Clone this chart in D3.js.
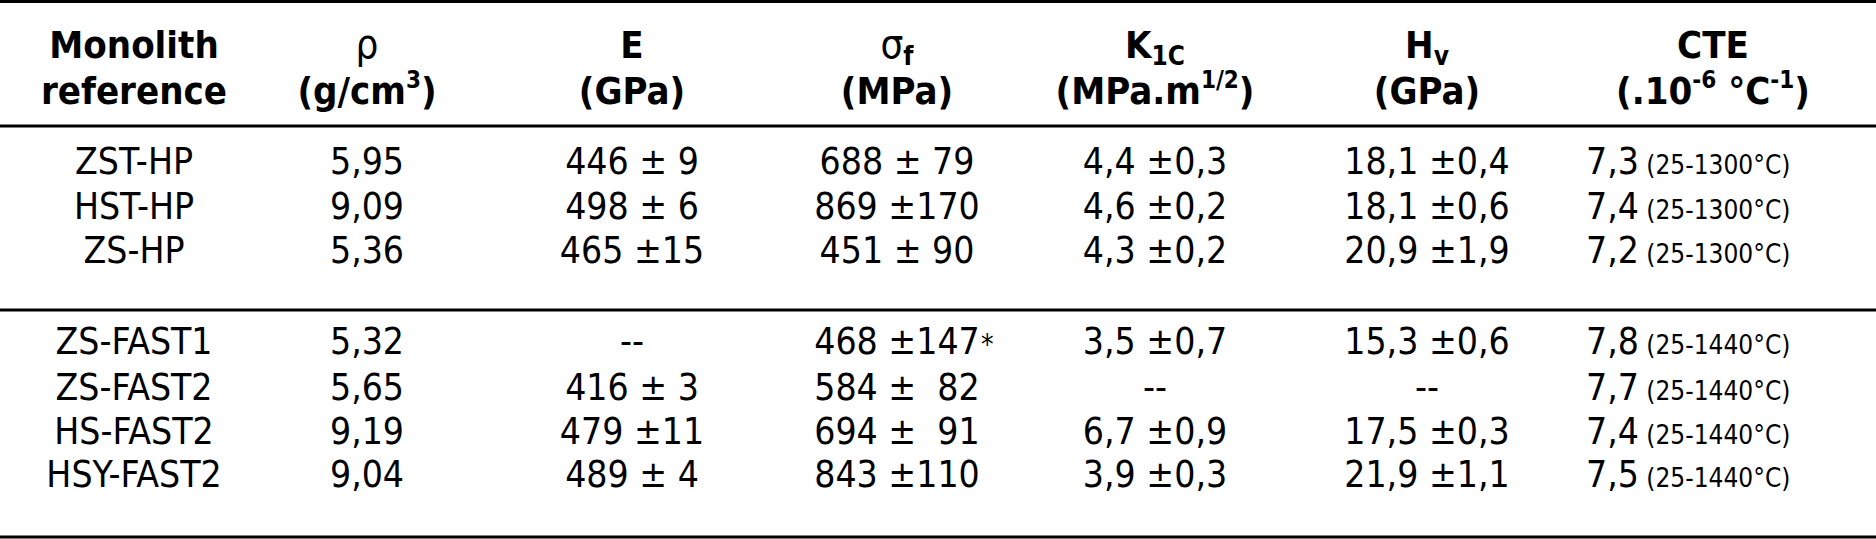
<!DOCTYPE html>
<html><head><meta charset="utf-8">
<script src="https://cdnjs.cloudflare.com/ajax/libs/d3/7.8.5/d3.min.js"></script>
<style>
body{margin:0;background:#fff}
text{font-family:"DejaVu Sans Condensed","DejaVu Sans",sans-serif;fill:#000;white-space:pre}
</style></head>
<body><svg width="1876" height="539"></svg>
<script>
const columns = ['ref', 'rho', 'E', 'sigma', 'K1C', 'Hv', 'CTE'];
const references = ['ZST-HP', 'HST-HP', 'ZS-HP', 'ZS-FAST1', 'ZS-FAST2', 'HS-FAST2', 'HSY-FAST2'];
const rho = ['5,95', '9,09', '5,36', '5,32', '5,65', '9,19', '9,04'];
const modulusE = ['446 ± 9', '498 ± 6', '465 ±15', '--', '416 ± 3', '479 ±11', '489 ± 4'];
const sigmaF = ['688 ± 79', '869 ±170', '451 ± 90', '468 ±147', '584 ±  82', '694 ±  91', '843 ±110'];
const k1c = ['4,4 ±0,3', '4,6 ±0,2', '4,3 ±0,2', '3,5 ±0,7', '--', '6,7 ±0,9', '3,9 ±0,3'];
const hv = ['18,1 ±0,4', '18,1 ±0,6', '20,9 ±1,9', '15,3 ±0,6', '--', '17,5 ±0,3', '21,9 ±1,1'];
const cte = ['7,3', '7,4', '7,2', '7,8', '7,7', '7,4', '7,5'];
const cteRange = ['(25-1300°C)', '(25-1300°C)', '(25-1300°C)', '(25-1440°C)', '(25-1440°C)', '(25-1440°C)', '(25-1440°C)'];
const notes = ['', '', '', '*', '', '', ''];

// header segments: [text, 'sub'|'sup'|null]
const header1 = [[['Monolith']], [['ρ', 'normal']], [['E']], [['σ', 'normal'], ['f', 'sub']], [['K'], ['1C', 'sub']], [['H'], ['v', 'sub']], [['CTE']]];
const header2 = [[['reference']], [['(g/cm'], ['3', 'sup'], [')']], [['(GPa)']], [['(MPa)']],
  [['(MPa.m'], ['1/2', 'sup'], [')']], [['(GPa)']], [['(.10'], ['-6', 'sup'], [' °C'], ['-1', 'sup'], [')']]];

const svg = d3.select('svg');
const width = +svg.attr('width');

const x = d3.scaleOrdinal().domain(columns).range([134, 367, 632, 897, 1155, 1427, 1713]);
const yRow = i => i < 3 ? [161, 206, 250][i] : [341, 387, 431, 474][i - 3];

const lines = [1.5, 126, 310, 537];
svg.selectAll('line.rule').data(lines).enter().append('line')
  .attr('x1', 0).attr('x2', width).attr('y1', d => d).attr('y2', d => d)
  .attr('stroke', '#000').attr('stroke-width', 3);

const shift = {sub: 7, sup: -16};
const drawHeader = (data, yy) => {
  const t = svg.append('g').selectAll('text').data(data).enter().append('text')
    .attr('x', (d, i) => x(columns[i])).attr('y', yy)
    .attr('text-anchor', 'middle').attr('font-size', 38).attr('font-weight', 'bold');
  t.each(function (segs) {
    const el = d3.select(this);
    let cur = 0;
    segs.forEach(([s, kind]) => {
      const target = shift[kind] || 0;
      const ts = el.append('tspan').text(s).attr('dy', target - cur);
      cur = target;
      if (kind === 'sub') ts.attr('font-size', 26);
      if (kind === 'sup') ts.attr('font-size', 24);
      if (kind === 'normal') ts.attr('font-weight', 'normal').attr('font-size', 40);
    });
  });
};
drawHeader(header1, 58);
drawHeader(header2, 104);

const body = [references, rho, modulusE, sigmaF, k1c, hv];
const g = svg.append('g');
body.forEach((col, c) => {
  g.selectAll(null).data(col).enter().append('text')
    .attr('x', x(columns[c])).attr('y', (d, i) => yRow(i) + 13)
    .attr('text-anchor', 'middle').attr('font-size', 37)
    .text(d => d);
});
g.selectAll(null).data(notes).enter().append('text')
  .attr('x', x('sigma') + 84).attr('y', (d, i) => yRow(i) + 13)
  .attr('font-size', 28).text(d => d);

const cteText = g.selectAll(null).data(cte).enter().append('text')
  .attr('x', 1586).attr('y', (d, i) => yRow(i) + 13).attr('font-size', 37);
cteText.append('tspan').text(d => d);
cteText.append('tspan').attr('font-size', 26).text((d, i) => ' ' + cteRange[i]);
</script></body></html>
